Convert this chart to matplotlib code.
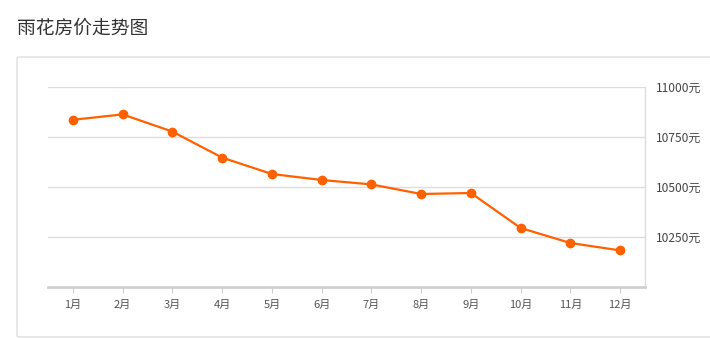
import matplotlib
matplotlib.use("Agg")
import matplotlib.pyplot as plt
from matplotlib.patches import FancyBboxPatch

plt.rcParams['font.family'] = ['Noto Sans CJK SC', 'DejaVu Sans']

# monthly average price (元/㎡)
months = ["1月", "2月", "3月", "4月", "5月", "6月",
          "7月", "8月", "9月", "10月", "11月", "12月"]
prices = [10836, 10863, 10777, 10647, 10565, 10535,
          10513, 10465, 10470, 10295, 10220, 10183]
y_ticks = [10000, 10250, 10500, 10750, 11000]
y_labels = ["", "10250元", "10500元", "10750元", "11000元"]

W, H = 710, 338
fig = plt.figure(figsize=(W / 100, H / 100), dpi=100)

# title
fig.text(17 / W, 1 - 28 / H, "雨花房价走势图", fontsize=13.5,
         color="#333333", va="center", ha="left")

# panel box around the chart (runs off the right edge)
panel = FancyBboxPatch((17 / W, 1 - 337 / H), 720 / W, 280 / H,
                       boxstyle="round,pad=0,rounding_size=0.006",
                       transform=fig.transFigure, facecolor="white",
                       edgecolor="#dddddd", linewidth=1, clip_on=False,
                       zorder=-1)
fig.patches.append(panel)

ax = fig.add_axes([48 / W, 1 - 287 / H, 597 / W, 200 / H])
ax.set_zorder(2)
ax.patch.set_alpha(0)
x = list(range(len(months)))
ax.plot(x, prices, color="#ff6000", linewidth=1.6, marker="o",
        markersize=6, zorder=3)

ax.set_xlim(-0.5, len(months) - 0.5)
ax.set_ylim(10000, 11000)
ax.set_xticks(x)
ax.set_xticklabels(months, fontsize=8, color="#555555")
ax.set_yticks(y_ticks)
ax.set_yticklabels(y_labels, fontsize=8.6, color="#444444", ha="left")
ax.yaxis.tick_right()
ax.tick_params(axis="y", length=0, pad=8)
ax.tick_params(axis="x", length=4, color="#cccccc", pad=5)

ax.grid(axis="y", color="#dddddd", linewidth=1)
ax.set_axisbelow(True)
for side in ["left", "top"]:
    ax.spines[side].set_visible(False)
ax.spines["right"].set_color("#dddddd")
ax.spines["right"].set_linewidth(1)
ax.spines["bottom"].set_color("#d0d0d0")
ax.spines["bottom"].set_linewidth(2)

fig.savefig("out.png", dpi=100)
